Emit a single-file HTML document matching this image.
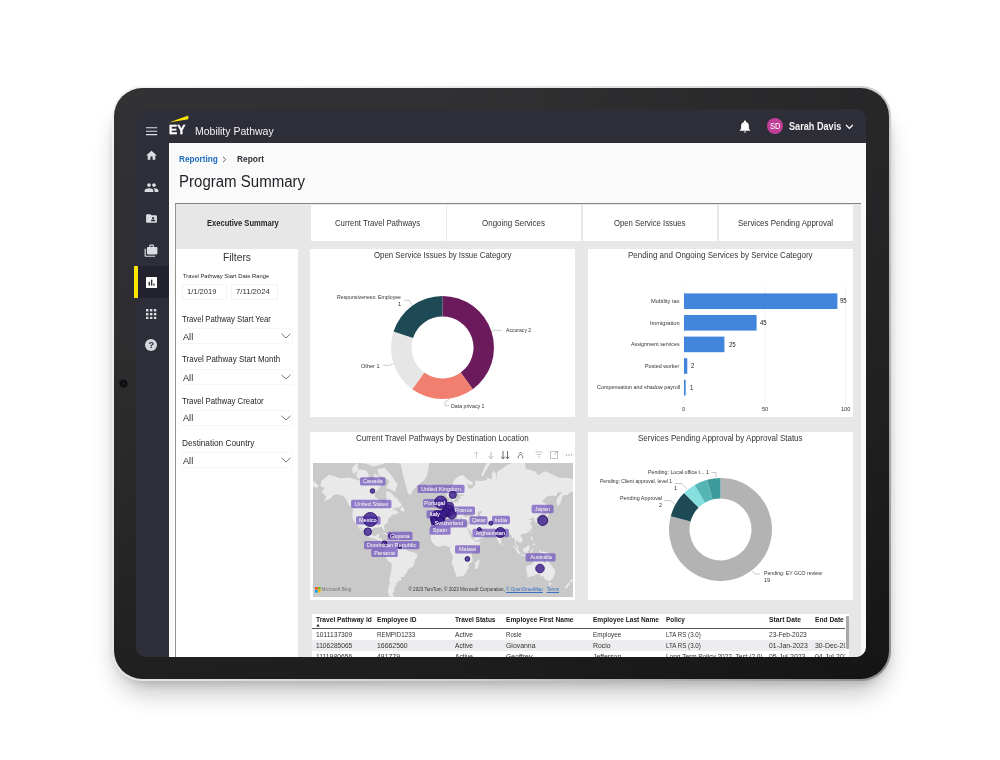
<!DOCTYPE html>
<html lang="en">
<head>
<meta charset="utf-8">
<title>Mobility Pathway - Program Summary</title>
<style>
*{box-sizing:border-box;margin:0;padding:0}
html,body{width:1000px;height:760px;overflow:hidden;background:#fff}
body{position:relative;font-family:"Liberation Sans",sans-serif;color:#252423}
.abs{position:absolute}
.t{position:absolute;white-space:nowrap;line-height:1;transform-origin:0 50%}
#shadow{left:118px;top:100px;width:768px;height:578px;border-radius:30px;box-shadow:0 14px 22px 4px rgba(0,0,0,.19),0 3px 9px 3px rgba(0,0,0,.17);background:#222}
#rim{left:112.4px;top:86.4px;width:778.4px;height:594.8px;border-radius:30px;background:linear-gradient(125deg,#f4f4f4 0%,#e6e6e6 35%,#cfcfcf 65%,#8c8c8c 100%)}
#bezel{left:113.8px;top:87.8px;width:774.8px;height:590.8px;border-radius:28.5px;background:linear-gradient(90deg,rgba(0,0,0,0) 40%,rgba(0,0,0,.2) 100%),linear-gradient(172deg,#323234 0%,#2e2e30 35%,#272728 62%,#1f1f20 85%,#1a1a1a 100%)}
#screen{left:136px;top:109px;width:730px;height:548px;border-radius:10px;background:#2e2e38;overflow:hidden}
#content{left:169px;top:143px;width:700px;height:520px;background:#fafafa}
#screen .in{position:absolute;left:-136px;top:-109px;width:1000px;height:760px}
#hdr{left:136px;top:109px;width:730px;height:34px;background:#2e2e38}
#side{left:136px;top:143px;width:33px;height:514px;background:#2e2e38}
#active{left:138px;top:266px;width:31px;height:32px;background:#23232f}
#ybar{left:134.4px;top:266px;width:3.2px;height:32px;background:#ffe600;border-radius:.5px}
.pb{font-family:"Liberation Sans",sans-serif;color:#333}
.card{position:absolute;background:#fff}
.tab{position:absolute;top:205px;height:36px;background:#fff;font-size:8px;color:#333;text-align:center;line-height:36px;white-space:nowrap}
.flabel{font-size:8px;color:#252423}
.fbox{position:absolute;left:180.5px;width:112px;height:16px;border:1px solid #f7f7f7;background:#fff}
.fall{font-size:8px;color:#333}
.ttl{font-size:8.5px;color:#333;text-align:center}
.sm{font-size:5.6px;color:#333}
.th{font-size:7px;font-weight:bold;color:#252423}
.td{font-size:7px;color:#333}
.ml{position:absolute;height:8.4px;border-radius:1.6px;background:rgba(104,72,186,.66);color:#fff;font-size:6.2px;line-height:8.4px;text-align:center;white-space:nowrap;overflow:visible}
.mlt{background:none}
.ml span{display:inline-block;transform:scaleX(.9);text-shadow:0 0 .6px rgba(60,30,120,.9),0 0 .3px #fff}
</style>
</head>
<body>
<div class="abs" id="shadow"></div>
<div class="abs" id="rim"></div>
<div class="abs" id="bezel"></div>
<!-- camera -->
<div class="abs" style="left:119.500px;top:379.800px;width:7px;height:7px;border-radius:50%;background:radial-gradient(circle at 50% 50%,#1d1d2a 0,#0a0a0c 55%,#050506 100%);box-shadow:0 0 0 .8px #1a1a1c"></div>
<div class="abs" id="screen"><div class="in">

<div class="abs" id="content"></div>
<div class="abs" id="hdr"></div>
<div class="abs" id="side"></div>
<div class="abs" id="active"></div>

<!-- header: hamburger, logo, title -->
<svg class="abs" style="left:145.800px;top:126.500px" width="12" height="9" viewBox="0 0 12 9"><path d="M0 .8h11.200M0 4.200h11.200M0 7.600h11.200" stroke="#e0e0e8" stroke-width="1.050" fill="none"/></svg>
<svg class="abs" style="left:166.800px;top:113.600px" width="24" height="10" viewBox="0 0 24 10"><path d="M2 8.500L21.300 1.400V5.300Z" fill="#ffe600"/></svg>
<div class="t" style="left:168.60px;top:123.75px;font-size:12.8px;font-weight:bold;color:#fff;transform:scaleX(0.960);-webkit-text-stroke:.35px #fff">EY</div>
<div class="t" style="left:195.00px;top:125.57px;font-size:10.5px;color:#f0f0f4;transform:scaleX(0.998);">Mobility Pathway</div>

<!-- header right -->
<svg class="abs" style="left:739px;top:120px" width="12" height="13" viewBox="0 0 12 13"><path d="M6 .6c.6 0 1 .4 1 1v.3c1.8.5 2.9 2 2.9 4v2.9l1.3 1.4v.6H.8v-.6l1.3-1.4V5.900c0-2 1.100-3.500 2.900-4V1.600c0-.6.400-1 1-1zM4.800 11.400h2.400c0 .7-.5 1.200-1.200 1.200s-1.200-.5-1.200-1.200z" fill="#fff"/></svg>
<div class="abs" style="left:767px;top:118px;width:16px;height:16px;border-radius:50%;background:#c23f97"></div>
<div class="t" style="left:770.00px;top:121.90px;font-size:9.0px;color:#fff;transform:scaleX(0.831);">SD</div>
<div class="t" style="left:788.80px;top:120.82px;font-size:10.8px;font-weight:bold;color:#f2f2f5;transform:scaleX(0.846);">Sarah Davis</div>
<svg class="abs" style="left:845px;top:124px" width="9" height="6" viewBox="0 0 9 6"><path d="M1 1l3.400 3.400L7.800 1" stroke="#fff" stroke-width="1.300" fill="none"/></svg>

<!-- sidebar icons -->
<svg class="abs" style="left:145px;top:148.700px" width="13" height="13" viewBox="0 0 24 24"><path d="M10 20v-6h4v6h5v-8h3L12 3 2 12h3v8z" fill="#dcdce4"/></svg>
<svg class="abs" style="left:144px;top:179.500px" width="15" height="15" viewBox="0 0 24 24"><path d="M16 11c1.660 0 2.990-1.340 2.990-3S17.660 5 16 5c-1.660 0-3 1.340-3 3s1.340 3 3 3zm-8 0c1.660 0 2.990-1.340 2.990-3S9.660 5 8 5C6.340 5 5 6.340 5 8s1.340 3 3 3zm0 2c-2.330 0-7 1.170-7 3.500V19h14v-2.500c0-2.330-4.670-3.500-7-3.500zm8 0c-.290 0-.620.020-.970.050 1.160.840 1.970 1.970 1.970 3.450V19h6v-2.500c0-2.330-4.670-3.500-7-3.500z" fill="#dcdce4"/></svg>
<svg class="abs" style="left:145px;top:212px" width="13" height="13" viewBox="0 0 24 24"><path d="M20 6h-8l-2-2H4c-1.100 0-1.990.9-1.990 2L2 18c0 1.100.9 2 2 2h16c1.100 0 2-.9 2-2V8c0-1.100-.9-2-2-2zm-5 3c1.100 0 2 .9 2 2s-.9 2-2 2-2-.9-2-2 .9-2 2-2zm4 8h-8v-1c0-1.330 2.670-2 4-2s4 .67 4 2v1z" fill="#dcdce4"/></svg>
<svg class="abs" style="left:144px;top:243.800px" width="14" height="14" viewBox="0 0 24 24"><path d="M3 8H1v12c0 1.100.9 2 2 2h16v-2H3V8z" fill="#dcdce4"/><path d="M21 5h-4V3c0-1.100-.9-2-2-2h-4c-1.100 0-2 .9-2 2v2H7c-1.100 0-2 .9-2 2v9c0 1.100.9 2 2 2h14c1.100 0 2-.9 2-2V7c0-1.100-.9-2-2-2zm-6 0h-4V3h4v2z" fill="#dcdce4"/></svg>
<svg class="abs" style="left:145.900px;top:276.600px" width="11.200" height="11.200" viewBox="0 0 12 12"><rect x="0" y="0" width="12" height="12" rx="1" fill="#fff"/><rect x="2.800" y="5.200" width="1.500" height="4" fill="#2e2e38"/><rect x="5.300" y="2.800" width="1.500" height="6.400" fill="#2e2e38"/><rect x="7.800" y="7.200" width="1.500" height="2" fill="#2e2e38"/></svg>
<svg class="abs" style="left:146.300px;top:308.700px" width="10.300" height="10.300" viewBox="0 0 11 11"><g fill="#dcdce4"><rect x="0" y="0" width="2.600" height="2.600"/><rect x="4.200" y="0" width="2.600" height="2.600"/><rect x="8.400" y="0" width="2.600" height="2.600"/><rect x="0" y="4.200" width="2.600" height="2.600"/><rect x="4.200" y="4.200" width="2.600" height="2.600"/><rect x="8.400" y="4.200" width="2.600" height="2.600"/><rect x="0" y="8.400" width="2.600" height="2.600"/><rect x="4.200" y="8.400" width="2.600" height="2.600"/><rect x="8.400" y="8.400" width="2.600" height="2.600"/></g></svg>
<div class="abs" style="left:145.200px;top:339px;width:12.200px;height:12.200px;border-radius:50%;background:#d6d6de"></div>
<div class="t" style="left:145.200px;top:340.800px;width:12.200px;text-align:center;font-size:9.200px;font-weight:bold;color:#2e2e38">?</div>

<!-- breadcrumb + title -->
<div class="t" style="left:178.60px;top:155.10px;font-size:8.6px;font-weight:bold;color:#1b6ac0;transform:scaleX(0.956);">Reporting</div>
<svg class="abs" style="left:221.500px;top:155.500px" width="5" height="7" viewBox="0 0 5 7"><path d="M1 .8l2.800 2.700L1 6.200" stroke="#555" stroke-width=".9" fill="none"/></svg>
<div class="t" style="left:236.80px;top:155.10px;font-size:8.6px;font-weight:bold;color:#2e2e38;transform:scaleX(0.975);">Report</div>
<div class="t" style="left:179.00px;top:173.98px;font-size:15.8px;color:#1f1f26;transform:scaleX(0.951);">Program Summary</div>

<!-- report frame -->
<div class="abs" style="left:174.500px;top:203px;width:686.500px;height:460px;background:#e7e7e7;border-top:1px solid #858585;border-left:1px solid #949494"></div>
<!-- tabs -->
<div class="tab" style="left:311px;width:134.500px"></div>
<div class="tab" style="left:447px;width:134px"></div>
<div class="tab" style="left:582.500px;width:134.500px"></div>
<div class="tab" style="left:718.500px;width:134px"></div>
<div class="t" style="left:206.50px;top:219.10px;font-size:8.6px;font-weight:bold;color:#252423;transform:scaleX(0.879);">Executive Summary</div>
<div class="t" style="left:335.40px;top:219.10px;font-size:8.6px;color:#333;transform:scaleX(0.905);">Current Travel Pathways</div>
<div class="t" style="left:482.10px;top:219.10px;font-size:8.6px;color:#333;transform:scaleX(0.929);">Ongoing Services</div>
<div class="t" style="left:614.10px;top:219.10px;font-size:8.6px;color:#333;transform:scaleX(0.900);">Open Service Issues</div>
<div class="t" style="left:737.95px;top:219.10px;font-size:8.6px;color:#333;transform:scaleX(0.926);">Services Pending Approval</div>

<!-- filters panel -->
<div class="card" style="left:176px;top:248.500px;width:122px;height:420px"></div>
<div class="t" style="left:222.50px;top:251.63px;font-size:11.0px;color:#333;transform:scaleX(0.935);">Filters</div>
<div class="t" style="left:182.50px;top:272.57px;font-size:6.2px;color:#1f1f1f;transform:scaleX(0.937);">Travel Pathway Start Date Range</div>
<div class="abs" style="left:182px;top:283.500px;width:45px;height:16px;border:1px solid #f4f4f4;background:#fff"></div>
<div class="abs" style="left:231px;top:283.500px;width:46.500px;height:16px;border:1px solid #f4f4f4;background:#fff"></div>
<div class="t" style="left:186.60px;top:288.49px;font-size:7.8px;color:#333;transform:scaleX(0.968);">1/1/2019</div>
<div class="t" style="left:235.80px;top:288.49px;font-size:7.8px;color:#333;transform:scaleX(0.988);">7/11/2024</div>

<div class="t" style="left:182.40px;top:314.90px;font-size:8.6px;color:#1f1f1f;transform:scaleX(0.898);">Travel Pathway Start Year</div>
<div class="fbox" style="top:328px"></div>
<div class="t" style="left:183.20px;top:332.80px;font-size:8.6px;color:#2a2a2a;transform:scaleX(1.067);">All</div>
<svg class="abs" style="left:281px;top:333px" width="10" height="6" viewBox="0 0 10 6"><path d="M.5 .8l4.500 4.200L9.500 .8" stroke="#555" stroke-width=".8" fill="none"/></svg>

<div class="t" style="left:182.40px;top:355.10px;font-size:8.6px;color:#1f1f1f;transform:scaleX(0.928);">Travel Pathway Start Month</div>
<div class="fbox" style="top:368.500px"></div>
<div class="t" style="left:183.20px;top:373.60px;font-size:8.6px;color:#2a2a2a;transform:scaleX(1.067);">All</div>
<svg class="abs" style="left:281px;top:373.500px" width="10" height="6" viewBox="0 0 10 6"><path d="M.5 .8l4.500 4.200L9.500 .8" stroke="#555" stroke-width=".8" fill="none"/></svg>

<div class="t" style="left:182.40px;top:396.50px;font-size:8.6px;color:#1f1f1f;transform:scaleX(0.907);">Travel Pathway Creator</div>
<div class="fbox" style="top:409.500px"></div>
<div class="t" style="left:183.20px;top:414.40px;font-size:8.6px;color:#2a2a2a;transform:scaleX(1.067);">All</div>
<svg class="abs" style="left:281px;top:414.500px" width="10" height="6" viewBox="0 0 10 6"><path d="M.5 .8l4.500 4.200L9.500 .8" stroke="#555" stroke-width=".8" fill="none"/></svg>

<div class="t" style="left:182.40px;top:439.10px;font-size:8.6px;color:#1f1f1f;transform:scaleX(0.958);">Destination Country</div>
<div class="fbox" style="top:452px"></div>
<div class="t" style="left:183.20px;top:456.80px;font-size:8.6px;color:#2a2a2a;transform:scaleX(1.067);">All</div>
<svg class="abs" style="left:281px;top:457px" width="10" height="6" viewBox="0 0 10 6"><path d="M.5 .8l4.500 4.200L9.500 .8" stroke="#555" stroke-width=".8" fill="none"/></svg>

<!-- chart 1: donut -->
<div class="card" style="left:310px;top:248.500px;width:265px;height:168.500px"></div>
<div class="t" style="left:373.95px;top:250.90px;font-size:9.0px;color:#333;transform:scaleX(0.870);">Open Service Issues by Issue Category</div>
<svg class="abs" style="left:0;top:0" width="1000" height="760" viewBox="0 0 1000 760">
<path d="M442.50 296.00A51.5 51.5 0 0 1 472.77 389.16L460.72 372.58A31 31 0 0 0 442.50 316.50Z" fill="#6b1a5c"/><path d="M472.77 389.16A51.5 51.5 0 0 1 412.23 389.16L424.28 372.58A31 31 0 0 0 460.72 372.58Z" fill="#f07f6f"/><path d="M412.23 389.16A51.5 51.5 0 0 1 393.52 331.59L413.02 337.92A31 31 0 0 0 424.28 372.58Z" fill="#e6e6e6"/><path d="M393.52 331.59A51.5 51.5 0 0 1 442.50 296.00L442.50 316.50A31 31 0 0 0 413.02 337.92Z" fill="#1d4a55"/>
<g stroke="#a6a6a6" stroke-width=".6" fill="none">
<path d="M491.500 331.500l3-1.200h7"/>
<path d="M449.500 398.700l-4.500 3.500v3.500h4"/>
<path d="M393.300 363.600l-4 1.800h-6"/>
<path d="M412.300 305.800l-3-5.500h-5"/>
</g>
</svg>
<div class="t" style="left:506.40px;top:326.82px;font-size:6.1px;color:#333;transform:scaleX(0.836);">Accuracy 2</div>
<div class="t" style="left:451.00px;top:402.82px;font-size:6.1px;color:#333;transform:scaleX(0.860);">Data privacy 1</div>
<div class="t" style="left:361.00px;top:362.82px;font-size:6.1px;color:#333;transform:scaleX(0.910);">Other 1</div>
<div class="t" style="left:337.00px;top:293.82px;font-size:6.1px;color:#333;transform:scaleX(0.851);">Responsiveness: Employee</div>
<div class="t" style="left:397.88px;top:301.32px;font-size:6.1px;color:#333;transform:scaleX(0.920);">1</div>

<!-- chart 2: bars -->
<div class="card" style="left:587.500px;top:248.500px;width:265.500px;height:168.500px"></div>
<div class="t" style="left:627.95px;top:250.90px;font-size:9.0px;color:#333;transform:scaleX(0.889);">Pending and Ongoing Services by Service Category</div>
<svg class="abs" style="left:0;top:0" width="1000" height="760" viewBox="0 0 1000 760">
<g stroke="#ececec" stroke-width=".7"><path d="M684.200 286v118M765 286v118M845.500 286v118"/></g>
<g fill="#4285dc">
<rect x="684" y="293.400" width="153.400" height="15.600"/>
<rect x="684" y="315" width="72.600" height="15.600"/>
<rect x="684" y="336.600" width="40.400" height="15.600"/>
<rect x="684" y="358.200" width="3.300" height="15.600"/>
<rect x="684" y="379.800" width="1.700" height="15.600"/>
</g>
</svg>
<div class="t" style="left:651.00px;top:298.02px;font-size:6.1px;color:#333;transform:scaleX(0.938);">Mobility tax</div>
<div class="t" style="left:650.00px;top:319.62px;font-size:6.1px;color:#333;transform:scaleX(0.930);">Immigration</div>
<div class="t" style="left:631.00px;top:341.22px;font-size:6.1px;color:#333;transform:scaleX(0.870);">Assignment services</div>
<div class="t" style="left:645.40px;top:362.82px;font-size:6.1px;color:#333;transform:scaleX(0.878);">Posted worker</div>
<div class="t" style="left:596.50px;top:384.42px;font-size:6.1px;color:#333;transform:scaleX(0.889);">Compensation and shadow payroll</div>
<div class="t" style="left:840.40px;top:298.48px;font-size:6.6px;color:#222;transform:scaleX(0.920);">95</div>
<div class="t" style="left:760.00px;top:320.08px;font-size:6.6px;color:#222;transform:scaleX(0.920);">45</div>
<div class="t" style="left:728.50px;top:341.68px;font-size:6.6px;color:#222;transform:scaleX(0.920);">25</div>
<div class="t" style="left:691.00px;top:363.28px;font-size:6.6px;color:#222;transform:scaleX(0.920);">2</div>
<div class="t" style="left:690.40px;top:384.88px;font-size:6.6px;color:#222;transform:scaleX(0.920);">1</div>
<div class="t" style="left:682.44px;top:406.32px;font-size:6.1px;color:#333;transform:scaleX(0.920);">0</div>
<div class="t" style="left:761.88px;top:406.32px;font-size:6.1px;color:#333;transform:scaleX(0.920);">50</div>
<div class="t" style="left:840.52px;top:406.32px;font-size:6.1px;color:#333;transform:scaleX(0.920);">100</div>
<!-- chart 3: map -->
<div class="card" style="left:310px;top:431.500px;width:265px;height:168px"></div>
<div class="t" style="left:356.40px;top:433.90px;font-size:9.0px;color:#333;transform:scaleX(0.887);">Current Travel Pathways by Destination Location</div>
<svg class="abs" style="left:470px;top:449px" width="104" height="12" viewBox="470 449 104 12">
<g stroke="#a8a8a8" stroke-width=".7" fill="none">
<path d="M476.500 458.500v-6.500M474.200 454.200l2.300-2.400 2.300 2.400" stroke="#bdbdbd"/>
<path d="M491 452v6.500M488.700 456.300l2.300 2.400 2.300-2.400" stroke="#9c9c9c"/>
<path d="M503 451v7.800M507.500 451v7.800M501.300 456.800l1.700 2 1.700-2M505.800 456.800l1.700 2 1.700-2" stroke="#5a5a5a" stroke-width=".9"/>
<path d="M518.300 458.300v-2l2.200-2.300 2.200 2.300v2M519 453.600l1.500-1.600 1.500 1.600" stroke="#666" stroke-width=".9"/>
<path d="M535.500 452h7M536.800 454.500h4.400M538 457h2"/>
<path d="M550.500 451.500h7v7h-7zM554 455l3.500-3.500M555.300 451.500h2.200v2.200"/>
</g>
<g fill="#999"><circle cx="566.500" cy="455" r=".7"/><circle cx="569" cy="455" r=".7"/><circle cx="571.500" cy="455" r=".7"/></g>
</svg>
<svg class="abs" style="left:312.500px;top:463px;filter:blur(.35px)" width="260.500" height="134" viewBox="0 0 260.500 134">
<rect width="260.500" height="134" fill="#c9c9c9"/>
<path d="M7.4 22.2 8.8 17.5 16.1 11.5 27.1 15.3 36.6 14.4 46.0 17.5 51.2 18.5 60.7 16.5 61.4 9.9 68.0 15.5 70.9 17.5 65.8 25.7 61.4 30.4 62.1 34.1 68.0 38.1 70.1 41.2 72.3 43.0 72.3 38.7 73.8 36.1 73.1 31.9 73.1 28.1 76.7 28.9 78.9 30.4 81.8 34.1 84.7 36.1 85.5 38.1 89.1 41.8 86.2 44.7 81.8 44.7 78.9 48.0 82.6 46.1 83.3 48.0 86.2 49.1 82.9 51.2 78.9 51.7 78.5 53.4 76.0 54.6 74.9 57.0 74.5 59.7 72.7 60.8 70.9 62.8 71.6 66.5 71.2 68.0 70.1 66.9 69.6 64.4 68.0 64.3 65.0 63.9 64.3 64.9 61.4 64.4 59.2 66.1 58.7 68.9 58.8 71.3 60.3 73.1 63.2 73.3 63.9 71.3 66.5 70.9 65.8 74.0 65.4 75.3 68.7 75.3 69.2 77.8 68.9 79.3 70.1 80.4 72.0 80.0 73.5 80.8 73.2 81.7 71.6 81.7 69.4 80.9 67.6 79.7 66.1 77.4 63.2 76.7 61.4 75.2 59.2 75.3 55.9 74.0 53.0 72.1 53.0 70.1 50.4 67.3 47.7 63.6 46.3 62.6 47.9 65.7 49.7 68.9 50.1 69.7 48.2 68.1 46.4 65.7 44.6 61.9 42.0 60.1 40.9 57.9 39.5 55.1 39.5 49.1 40.2 46.6 38.8 44.7 36.6 43.0 34.7 39.4 32.2 34.8 29.3 32.6 23.4 31.2 19.8 32.6 17.6 35.4 14.7 36.8 11.0 38.7 13.2 34.1 11.7 31.9 8.8 29.7 10.3 26.5 12.5 24.8 8.8 24.0ZM84.7 21.3 81.8 28.9 77.4 26.5 73.1 24.8 76.7 18.5 71.6 14.4 65.8 12.2 64.3 6.2 71.6 4.9 77.4 11.1 81.1 16.5ZM53.4 16.5 44.6 15.5 43.1 11.1 46.0 6.2 53.4 7.5 56.3 13.3ZM40.2 11.1 38.8 4.9 44.6 -0.7 45.3 7.5ZM42.4 -0.7 53.4 0.8 60.7 3.6 71.6 0.8 73.1 -14.9 42.4 -14.9ZM76.7 -7.2 80.4 -0.7 87.7 0.8 90.6 14.4 92.8 22.2 95.0 30.4 97.9 31.9 99.3 28.1 104.5 22.2 111.0 17.5 113.9 13.3 115.4 4.9 116.9 -3.9 115.4 -14.9 100.8 -29.9 86.2 -24.3ZM73.5 80.8 74.9 79.1 77.4 78.2 77.8 79.7 80.4 78.5 83.3 79.3 85.1 79.3 86.2 80.8 88.4 82.6 92.0 83.7 93.5 86.3 94.6 87.7 97.9 88.8 100.8 89.2 104.3 91.0 104.5 93.2 102.6 95.8 101.5 98.8 100.8 101.9 99.7 103.9 97.2 104.8 94.6 106.7 94.4 108.7 92.0 112.1 90.6 113.9 88.4 113.9 87.4 113.4 88.4 115.7 87.7 117.5 84.7 118.0 84.4 119.9 82.6 119.9 83.4 121.3 82.2 123.9 80.7 125.4 82.0 127.0 79.6 130.4 80.0 132.8 81.8 135.3 78.2 134.6 76.0 132.2 74.9 128.1 75.6 123.9 76.7 120.8 76.2 117.0 77.1 113.4 77.8 110.0 78.5 105.9 78.8 101.1 77.4 99.6 74.5 97.3 73.4 95.5 72.0 92.5 70.7 90.7 71.4 89.2 71.0 87.7 71.6 86.3 72.5 85.7 73.4 84.1 73.4 82.2 73.2 81.7ZM125.7 59.0 128.5 59.5 132.2 58.1 137.3 57.6 138.0 60.6 137.4 60.8 140.9 62.1 144.2 63.6 145.0 61.9 148.2 62.6 151.2 63.2 153.6 63.0 153.7 64.0 154.5 65.7 155.9 68.9 157.0 71.3 157.4 73.3 158.8 75.5 161.4 77.8 161.6 78.5 164.3 78.8 167.2 78.2 167.4 79.3 165.0 83.3 162.1 85.9 160.3 88.3 158.7 90.7 158.8 92.9 159.6 94.7 159.7 98.1 157.0 100.0 155.6 101.9 155.9 105.1 153.9 106.7 153.7 108.7 152.3 110.8 149.7 113.2 146.1 113.6 144.2 114.0 143.4 113.4 143.1 111.7 141.3 107.9 140.6 103.9 138.8 100.4 139.1 96.9 140.0 95.1 138.9 91.4 136.9 88.1 136.9 86.3 137.1 84.4 136.4 83.7 134.4 83.9 133.1 82.4 130.7 82.8 127.8 83.3 124.5 83.8 122.3 82.2 120.4 80.4 119.0 78.9 117.6 76.1 118.1 72.9 117.6 71.3 118.3 69.3 119.4 67.3 120.5 65.9 122.7 64.4 122.9 62.8 124.5 60.8ZM166.0 96.0 166.7 98.5 166.1 100.0 164.7 105.7 162.8 106.3 161.8 103.9 162.3 101.5 162.1 99.6 163.9 98.5 165.0 96.9ZM-139.4 57.9 -139.7 56.3 -139.2 53.6 -139.5 52.2 -138.6 51.5 -134.1 51.8 -133.7 49.3 -134.8 47.5 -136.2 46.5 -133.9 46.2 -134.0 45.1 -132.7 45.2 -131.6 43.8 -130.2 43.1 -129.4 41.2 -127.7 40.5 -126.5 40.0 -126.8 36.4 -125.1 35.3 -125.3 38.1 -124.0 39.7 -122.6 40.0 -119.3 39.1 -117.5 38.3 -117.5 35.7 -115.1 35.4 -115.6 33.1 -112.4 32.5 -110.9 31.9 -113.8 31.3 -116.4 31.9 -117.3 30.4 -117.1 27.3 -114.5 24.0 -116.7 22.6 -120.2 29.7 -119.1 31.9 -120.8 36.1 -122.4 38.0 -123.5 38.1 -124.6 33.8 -127.0 34.8 -128.8 33.4 -129.1 29.2 -126.6 26.2 -123.3 22.2 -121.8 17.5 -118.9 14.4 -114.5 12.2 -112.4 12.2 -110.2 14.4 -108.7 15.9 -102.9 19.5 -103.6 22.2 -107.2 21.3 -108.7 21.0 -107.2 25.2 -105.4 25.7 -103.2 24.8 -100.7 21.9 -100.7 17.5 -93.4 18.1 -89.0 16.9 -88.6 14.4 -83.9 16.5 -83.9 11.1 -82.4 7.5 -79.5 11.1 -79.5 18.5 -78.4 8.7 -74.4 6.2 -69.3 2.2 -61.3 -0.7 -56.9 -5.5 -51.0 -0.7 -49.9 5.7 -40.1 8.7 -37.9 12.2 -30.6 8.2 -21.8 12.2 -16.0 15.1 -8.7 14.8 -2.9 16.1 -1.4 16.7 2.2 19.5 5.9 22.2 3.7 25.0 0.1 23.6 -2.1 24.8 -1.8 28.1 -5.8 29.4 -8.7 31.9 -13.1 32.2 -13.8 35.0 -14.5 37.4 -16.0 41.2 -18.4 43.6 -19.3 38.7 -18.9 35.4 -15.3 31.2 -13.8 28.9 -18.2 29.4 -19.7 32.9 -24.0 32.6 -29.1 33.4 -34.2 39.0 -30.6 40.0 -29.5 42.4 -30.2 46.4 -32.1 49.1 -33.9 51.2 -36.1 52.2 -37.5 52.7 -38.3 54.6 -39.7 55.6 -38.3 57.9 -38.4 59.4 -40.5 60.2 -40.6 57.9 -41.5 57.0 -41.9 55.1 -44.1 54.6 -44.1 56.0 -46.7 55.8 -46.3 57.0 -43.4 57.4 -43.7 58.1 -45.7 59.7 -44.5 61.9 -43.7 63.2 -44.1 65.7 -45.9 67.7 -47.8 69.7 -49.9 70.3 -52.1 71.1 -54.0 70.9 -55.4 72.5 -53.6 75.2 -52.9 77.4 -53.2 78.5 -54.8 79.4 -56.2 80.6 -56.3 79.5 -58.0 78.2 -59.2 77.2 -59.8 78.5 -60.3 80.2 -59.4 81.7 -58.0 83.0 -57.2 84.4 -56.7 86.0 -57.4 86.0 -58.9 85.0 -59.6 83.0 -61.0 81.0 -60.8 78.2 -61.5 75.5 -61.8 74.6 -64.0 75.2 -64.0 73.0 -65.6 71.3 -66.4 70.1 -68.2 70.7 -69.4 71.7 -70.9 72.9 -72.7 74.8 -74.3 75.5 -74.3 77.4 -74.5 79.4 -76.2 81.1 -77.1 80.0 -78.2 77.4 -79.3 74.4 -79.7 72.5 -79.8 71.1 -81.3 71.5 -82.4 70.3 -83.7 68.3 -87.5 68.0 -91.0 67.6 -91.6 66.5 -93.4 66.8 -95.2 65.9 -96.3 64.0 -97.4 64.0 -97.8 65.3 -96.2 66.8 -95.4 68.7 -94.8 68.9 -93.0 68.8 -91.7 67.2 -91.5 68.5 -89.9 69.3 -89.1 70.1 -90.1 71.7 -90.7 72.9 -92.7 74.4 -94.8 75.5 -97.2 76.7 -99.9 77.6 -101.0 77.7 -101.6 75.9 -101.8 74.8 -103.6 71.9 -104.5 69.3 -105.6 67.9 -107.2 65.7 -107.3 64.4 -107.8 65.7 -108.2 65.4 -109.0 64.0 -109.2 63.0 -107.8 62.9 -107.2 61.6 -106.6 59.4 -106.4 58.2 -107.6 58.2 -109.4 58.6 -110.5 58.5 -111.6 58.3 -112.8 57.9 -113.6 56.5 -113.3 55.6 -113.7 55.0 -113.8 54.5 -115.3 54.3 -116.2 54.7 -115.6 56.0 -115.3 57.0 -116.0 58.3 -117.0 58.1 -117.5 56.5 -118.6 54.8 -118.6 53.4 -119.7 52.5 -121.6 50.9 -122.7 49.6 -123.8 49.8 -123.7 51.2 -122.7 52.2 -121.1 53.4 -119.3 54.9 -120.4 54.6 -120.8 55.4 -120.3 56.0 -121.1 57.0 -121.3 57.0 -121.1 56.0 -121.5 55.0 -122.4 54.3 -123.8 53.4 -125.1 52.2 -125.5 51.2 -126.4 50.8 -127.3 51.4 -128.4 52.1 -129.9 51.7 -130.6 52.7 -130.5 53.4 -132.2 54.1 -133.0 55.6 -132.7 56.3 -133.3 57.2 -134.3 58.1 -136.1 58.2 -136.9 58.8 -137.5 58.1 -138.2 57.7ZM123.4 57.9 123.1 56.3 123.6 53.6 123.3 52.2 124.2 51.5 128.7 51.8 129.1 49.3 128.0 47.5 126.6 46.5 128.9 46.2 128.8 45.1 130.1 45.2 131.2 43.8 132.6 43.1 133.4 41.2 135.1 40.5 136.3 40.0 136.0 36.4 137.7 35.3 137.5 38.1 138.8 39.7 140.2 40.0 143.5 39.1 145.3 38.3 145.3 35.7 147.7 35.4 147.2 33.1 150.4 32.5 151.9 31.9 149.0 31.3 146.4 31.9 145.5 30.4 145.7 27.3 148.2 24.0 146.1 22.6 142.6 29.7 143.7 31.9 142.0 36.1 140.4 38.0 139.3 38.1 138.2 33.8 135.8 34.8 134.0 33.4 133.7 29.2 136.2 26.2 139.5 22.2 140.9 17.5 143.9 14.4 148.2 12.2 150.4 12.2 152.6 14.4 154.1 15.9 159.9 19.5 159.2 22.2 155.6 21.3 154.1 21.0 155.6 25.2 157.4 25.7 159.6 24.8 162.1 21.9 162.1 17.5 169.4 18.1 173.8 16.9 174.2 14.4 178.9 16.5 178.9 11.1 180.4 7.5 183.3 11.1 183.3 18.5 184.4 8.7 188.4 6.2 193.5 2.2 201.5 -0.7 205.9 -5.5 211.8 -0.7 212.9 5.7 222.7 8.7 224.9 12.2 232.2 8.2 241.0 12.2 246.8 15.1 254.1 14.8 259.9 16.1 261.4 16.7 265.0 19.5 268.7 22.2 266.5 25.0 262.9 23.6 260.7 24.8 261.0 28.1 257.0 29.4 254.1 31.9 249.7 32.2 249.0 35.0 248.3 37.4 246.8 41.2 244.4 43.6 243.5 38.7 243.9 35.4 247.5 31.2 249.0 28.9 244.6 29.4 243.1 32.9 238.8 32.6 233.7 33.4 228.6 39.0 232.2 40.0 233.3 42.4 232.6 46.4 230.7 49.1 228.9 51.2 226.7 52.2 225.3 52.7 224.5 54.6 223.1 55.6 224.5 57.9 224.4 59.4 222.3 60.2 222.2 57.9 221.2 57.0 220.9 55.1 218.7 54.6 218.7 56.0 216.1 55.8 216.5 57.0 219.4 57.4 219.1 58.1 217.1 59.7 218.3 61.9 219.1 63.2 218.7 65.7 216.9 67.7 215.0 69.7 212.9 70.3 210.7 71.1 208.8 70.9 207.4 72.5 209.2 75.2 209.9 77.4 209.6 78.5 208.0 79.4 206.6 80.6 206.5 79.5 204.8 78.2 203.6 77.2 203.0 78.5 202.5 80.2 203.4 81.7 204.8 83.0 205.6 84.4 206.1 86.0 205.4 86.0 203.9 85.0 203.2 83.0 201.8 81.0 202.0 78.2 201.3 75.5 201.0 74.6 198.8 75.2 198.8 73.0 197.2 71.3 196.4 70.1 194.6 70.7 193.4 71.7 191.9 72.9 190.1 74.8 188.5 75.5 188.5 77.4 188.3 79.4 186.6 81.1 185.7 80.0 184.6 77.4 183.5 74.4 183.1 72.5 183.0 71.1 181.5 71.5 180.4 70.3 179.1 68.3 175.3 68.0 171.8 67.6 171.2 66.5 169.4 66.8 167.6 65.9 166.5 64.0 165.4 64.0 165.0 65.3 166.6 66.8 167.4 68.7 168.0 68.9 169.8 68.8 171.1 67.2 171.3 68.5 172.9 69.3 173.7 70.1 172.7 71.7 172.1 72.9 170.2 74.4 168.0 75.5 165.6 76.7 162.8 77.6 161.8 77.7 161.2 75.9 161.0 74.8 159.2 71.9 158.3 69.3 157.2 67.9 155.6 65.7 155.5 64.4 155.0 65.7 154.6 65.4 153.8 64.0 153.6 63.0 155.0 62.9 155.6 61.6 156.2 59.4 156.4 58.2 155.2 58.2 153.4 58.6 152.3 58.5 151.2 58.3 150.0 57.9 149.2 56.5 149.5 55.6 149.1 55.0 149.0 54.5 147.5 54.3 146.6 54.7 147.2 56.0 147.5 57.0 146.8 58.3 145.8 58.1 145.3 56.5 144.2 54.8 144.2 53.4 143.1 52.5 141.2 50.9 140.1 49.6 139.0 49.8 139.1 51.2 140.1 52.2 141.7 53.4 143.5 54.9 142.4 54.6 142.0 55.4 142.5 56.0 141.7 57.0 141.5 57.0 141.7 56.0 141.3 55.0 140.4 54.3 139.0 53.4 137.7 52.2 137.3 51.2 136.4 50.8 135.5 51.4 134.4 52.1 132.9 51.7 132.2 52.7 132.3 53.4 130.6 54.1 129.8 55.6 130.1 56.3 129.5 57.2 128.5 58.1 126.7 58.2 125.9 58.8 125.3 58.1 124.6 57.7ZM126.0 44.7 127.4 44.4 130.9 43.3 131.2 41.6 130.2 41.2 129.9 39.6 128.8 38.1 128.4 37.0 128.5 35.3 127.4 35.2 127.7 33.9 126.3 33.9 125.6 35.4 126.0 37.4 126.5 39.0 127.8 40.0 127.7 40.8 126.7 41.0 126.9 42.0 126.2 42.6 127.6 43.1ZM125.6 42.2 125.5 40.0 125.9 39.2 125.3 38.5 124.0 38.5 122.7 39.7 122.8 42.4 123.1 43.0ZM113.6 25.9 116.5 26.7 119.4 24.8 119.2 22.2 118.0 21.3 113.9 21.7 112.5 23.1 113.9 24.0ZM225.0 61.2 225.6 62.9 226.4 61.0 228.6 61.0 230.0 60.1 231.5 59.7 232.8 59.1 232.9 56.7 233.7 55.5 233.1 53.8 232.2 54.1 232.1 55.6 231.1 57.6 230.0 57.9 229.3 59.0 227.1 59.2 225.6 60.3ZM232.2 53.2 233.3 51.9 233.4 49.7 236.0 51.2 235.8 52.2 234.5 53.2 232.9 52.7ZM233.7 49.1 234.8 45.3 234.4 42.4 234.0 40.0 233.5 42.4 233.7 45.9ZM217.7 69.7 218.3 68.1 219.0 68.1 218.3 70.5ZM188.3 81.1 188.5 79.9 189.7 81.5 189.1 82.5 188.4 82.6ZM217.8 75.2 218.2 73.3 219.2 73.3 219.1 75.2 220.5 77.4 220.0 77.4 218.3 76.8ZM219.1 81.9 220.2 80.8 221.6 79.9 222.3 81.5 221.6 82.6 220.5 82.2ZM209.6 85.9 209.9 85.5 211.2 85.2 212.5 84.6 214.3 83.0 215.4 81.9 216.9 83.2 216.0 84.4 216.9 86.3 215.8 86.6 215.0 88.5 214.7 89.8 213.6 89.9 211.4 89.3 210.3 88.1 209.6 86.6ZM199.6 82.9 201.2 83.2 203.0 85.2 205.6 87.0 206.3 88.5 207.4 89.3 207.2 91.2 206.3 91.2 204.5 89.9 203.2 87.7 202.1 85.8 200.8 84.7ZM206.8 92.0 209.2 91.8 211.0 91.8 213.6 92.5 213.4 93.3 210.3 93.0 207.7 92.4ZM217.2 91.0 217.9 89.0 217.5 86.9 218.3 86.1 221.2 85.8 220.9 86.6 218.3 86.6 218.7 87.7 220.0 87.7 219.1 88.5 219.4 90.3 218.7 90.5 218.3 89.0 217.9 91.0ZM225.6 87.6 227.8 87.6 228.6 89.4 230.7 88.2 232.9 88.9 235.8 90.1 237.7 91.4 236.9 92.1 238.0 92.9 240.0 94.7 237.9 94.3 236.6 93.0 234.8 93.0 234.4 93.7 232.9 93.6 231.1 93.1 230.7 91.0 228.6 90.3 227.1 89.9 226.4 89.0ZM213.0 103.9 213.4 106.7 213.9 110.0 214.5 111.5 213.9 113.7 216.1 114.3 217.6 113.3 220.2 113.3 222.0 111.9 224.2 111.3 226.0 111.2 227.8 112.4 228.9 114.1 230.5 112.5 230.6 114.7 231.8 115.2 232.8 117.0 234.8 117.8 236.8 118.0 238.0 116.9 239.5 116.3 240.4 113.4 241.7 110.8 242.1 108.3 241.7 106.3 240.2 104.7 239.1 103.5 238.4 101.9 236.8 101.1 236.2 98.1 234.8 97.5 234.1 94.9 233.4 96.6 232.9 99.8 231.8 100.0 230.0 98.6 229.1 98.1 229.9 96.0 226.9 95.4 225.6 96.0 224.7 98.0 223.7 97.9 222.0 97.3 220.5 99.1 219.3 100.0 218.7 101.5 216.5 102.1 214.7 102.7ZM235.6 119.6 238.3 119.8 238.0 122.0 236.9 122.4 236.1 121.3ZM256.1 113.8 257.6 115.9 258.5 116.7 260.3 116.8 259.2 118.2 259.1 118.9 258.0 120.5 257.6 120.2 257.7 118.7 256.9 118.2 257.5 117.0 257.4 115.7ZM256.1 119.4 257.2 120.6 256.1 122.3 255.0 123.1 254.6 124.8 253.0 125.5 251.5 124.9 252.9 122.8 254.8 120.8ZM68.0 70.7 70.1 69.6 73.8 70.8 75.8 71.9 73.3 72.2 73.1 71.5 70.1 70.2ZM75.7 73.3 76.7 72.2 78.9 72.2 80.1 73.2 78.2 73.8ZM168.0 12.2 170.5 6.7 173.8 -0.7 179.6 -3.2 175.3 3.6 171.6 9.9 170.2 12.9ZM139.1 57.0 141.3 56.8 141.1 58.2 139.1 57.3ZM136.1 54.1 137.1 54.1 137.0 55.8 136.2 56.0ZM86.9 47.3 89.1 43.0 91.3 46.4 91.3 48.4 89.1 48.2Z" fill="#e9e9e9"/>
<path d="M150.6 53.6 150.3 52.7 150.9 51.7 151.7 49.9 152.6 48.5 154.5 49.1 154.5 50.6 155.8 50.1 156.7 49.8 157.4 48.6 158.5 48.0 157.7 49.6 157.0 50.3 158.8 51.5 160.3 52.5 160.3 53.6 157.7 54.1 155.6 53.2 153.0 53.9 151.2 54.0ZM165.8 48.6 167.6 48.0 168.7 48.6 168.7 50.1 167.2 50.6 166.9 52.7 168.3 53.2 169.1 54.6 168.7 56.0 169.4 57.6 167.6 58.2 166.1 57.4 165.8 55.6 166.1 54.6 164.7 52.4 164.3 50.6Z" fill="#c9c9c9"/>
</svg>
<svg class="abs" style="left:0;top:0" width="1000" height="760" viewBox="0 0 1000 760">
<g fill="rgba(112,84,190,.72)"><rect x="360" y="477.200" width="25.500" height="8.400" rx="1.600"/><rect x="351" y="499.800" width="40.500" height="8.400" rx="1.600"/><rect x="356" y="516.200" width="24.500" height="8.400" rx="1.600"/><rect x="387.500" y="531.700" width="25" height="8.400" rx="1.600"/><rect x="364" y="540.900" width="55.500" height="8.400" rx="1.600"/><rect x="371.300" y="548.700" width="26.500" height="8.400" rx="1.600"/><rect x="417.500" y="484.700" width="47" height="8.400" rx="1.600"/><rect x="423" y="499" width="24" height="8.400" rx="1.600"/><rect x="453" y="506.400" width="22" height="8.400" rx="1.600"/><rect x="426.600" y="510.200" width="17" height="8.400" rx="1.600"/><rect x="431" y="519.200" width="36" height="8.400" rx="1.600"/><rect x="429.600" y="526.400" width="21" height="8.400" rx="1.600"/><rect x="469.500" y="516.200" width="18" height="8.400" rx="1.600"/><rect x="492" y="515.800" width="18" height="8.400" rx="1.600"/><rect x="472.500" y="528.800" width="36.500" height="8.400" rx="1.600"/><rect x="455" y="545.200" width="25" height="8.400" rx="1.600"/><rect x="531.600" y="504.800" width="22" height="8.400" rx="1.600"/><rect x="525.600" y="553.200" width="30" height="8.400" rx="1.600"/></g>
<g fill="rgba(58,26,140,.8)" stroke="rgba(40,14,104,.95)" stroke-width=".9">
<circle cx="372.500" cy="491" r="2.300"/>
<circle cx="370.300" cy="519.500" r="7"/>
<circle cx="367.800" cy="531.700" r="3.800"/>
<circle cx="390.700" cy="535.800" r="2"/>
<circle cx="384.500" cy="543.400" r="2.400"/>
<circle cx="399.800" cy="546.400" r="2"/>
<circle cx="452.800" cy="494.800" r="3.600"/>
<circle cx="440.800" cy="502.200" r="6.200"/>
<circle cx="449.600" cy="506.300" r="4"/>
<circle cx="448.200" cy="510.900" r="5.800"/>
<circle cx="451.900" cy="514.600" r="4.400"/>
<circle cx="445.900" cy="511.800" r="4"/>
<circle cx="437.600" cy="517.800" r="7.200"/>
<circle cx="434.900" cy="521" r="4"/>
<circle cx="442.500" cy="514.500" r="4.500"/>
<circle cx="440" cy="520.500" r="4"/>
<circle cx="490.800" cy="523.200" r="2"/>
<circle cx="479.400" cy="529.500" r="2"/>
<circle cx="500.400" cy="532.500" r="5"/>
<circle cx="467.400" cy="559" r="2.400"/>
<circle cx="542.700" cy="520.500" r="5"/>
<circle cx="540" cy="568.500" r="4.300"/>
</g>
</svg>
<div class="ml mlt" style="left:360px;top:477.200px;width:25.500px"><span>Canada</span></div>
<div class="ml mlt" style="left:351px;top:499.800px;width:40.500px"><span>United States</span></div>
<div class="ml mlt" style="left:356px;top:516.200px;width:24.500px"><span>Mexico</span></div>
<div class="ml mlt" style="left:387.500px;top:531.700px;width:25px"><span>Guyana</span></div>
<div class="ml mlt" style="left:364px;top:540.900px;width:55.500px"><span>Dominican Republic</span></div>
<div class="ml mlt" style="left:371.300px;top:548.700px;width:26.500px"><span>Panama</span></div>
<div class="ml mlt" style="left:417.500px;top:484.700px;width:47px"><span>United Kingdom</span></div>
<div class="ml mlt" style="left:423px;top:499px;width:24px"><span>Portugal</span></div>
<div class="ml mlt" style="left:453px;top:506.400px;width:22px"><span>France</span></div>
<div class="ml mlt" style="left:426.600px;top:510.200px;width:17px"><span>Italy</span></div>
<div class="ml mlt" style="left:431px;top:519.200px;width:36px"><span>Switzerland</span></div>
<div class="ml mlt" style="left:429.600px;top:526.400px;width:21px"><span>Spain</span></div>
<div class="ml mlt" style="left:469.500px;top:516.200px;width:18px"><span>Qatar</span></div>
<div class="ml mlt" style="left:492px;top:515.800px;width:18px"><span>India</span></div>
<div class="ml mlt" style="left:472.500px;top:528.800px;width:36.500px"><span>Afghanistan</span></div>
<div class="ml mlt" style="left:455px;top:545.200px;width:25px"><span>Malawi</span></div>
<div class="ml mlt" style="left:531.600px;top:504.800px;width:22px"><span>Japan</span></div>
<div class="ml mlt" style="left:525.600px;top:553.200px;width:30px"><span>Australia</span></div>
<!-- bing logo -->
<svg class="abs" style="left:315px;top:587px" width="6" height="6" viewBox="0 0 6 6"><rect x="0" y="0" width="2.600" height="2.600" fill="#f25022"/><rect x="3" y="0" width="2.600" height="2.600" fill="#7fba00"/><rect x="0" y="3" width="2.600" height="2.600" fill="#00a4ef"/><rect x="3" y="3" width="2.600" height="2.600" fill="#ffb900"/></svg>
<div class="t pb" style="left:321.500px;top:587.500px;font-size:4.700px;color:#737373">Microsoft Bing</div>
<div class="t pb" style="left:408.500px;top:587.700px;font-size:4.550px;color:#333">© 2023 TomTom, © 2023 Microsoft Corporation, <span style="color:#3b6fc4;text-decoration:underline">© OpenStreetMap</span>&nbsp;&nbsp;&nbsp;<span style="color:#3b6fc4;text-decoration:underline">Terms</span></div>

<!-- chart 4: donut -->
<div class="card" style="left:587.500px;top:431.500px;width:265.500px;height:168px"></div>
<div class="t" style="left:638.45px;top:433.90px;font-size:9.0px;color:#333;transform:scaleX(0.889);">Services Pending Approval by Approval Status</div>
<svg class="abs" style="left:0;top:0" width="1000" height="760" viewBox="0 0 1000 760">
<path d="M720.50 478.00A51.5 51.5 0 1 1 670.75 516.17L690.56 521.48A31 31 0 1 0 720.50 498.50Z" fill="#b3b3b3"/><path d="M670.75 516.17A51.5 51.5 0 0 1 684.08 493.08L698.58 507.58A31 31 0 0 0 690.56 521.48Z" fill="#1d4a55"/><path d="M684.08 493.08A51.5 51.5 0 0 1 694.75 484.90L705.00 502.65A31 31 0 0 0 698.58 507.58Z" fill="#86e0e0"/><path d="M694.75 484.90A51.5 51.5 0 0 1 707.17 479.75L712.48 499.56A31 31 0 0 0 705.00 502.65Z" fill="#55b5b5"/><path d="M707.17 479.75A51.5 51.5 0 0 1 720.50 478.00L720.50 498.50A31 31 0 0 0 712.48 499.56Z" fill="#3f9a9c"/>
<g stroke="#a6a6a6" stroke-width=".6" fill="none">
<path d="M711.500 472.500h4.500v5"/>
<path d="M675 483.500h7l5 5.500"/>
<path d="M664 500.500h6l4.500 3"/>
<path d="M752 571l3 3h5"/>
</g>
</svg>
<div class="t" style="left:647.50px;top:469.32px;font-size:6.1px;color:#333;transform:scaleX(0.870);">Pending: Local office t... 1</div>
<div class="t" style="left:600.40px;top:477.82px;font-size:6.1px;color:#333;transform:scaleX(0.824);">Pending: Client approval, level 1</div>
<div class="t" style="left:674.00px;top:485.02px;font-size:6.1px;color:#333;transform:scaleX(0.920);">1</div>
<div class="t" style="left:619.60px;top:494.82px;font-size:6.1px;color:#333;transform:scaleX(0.879);">Pending Approval</div>
<div class="t" style="left:659.00px;top:502.02px;font-size:6.1px;color:#333;transform:scaleX(0.920);">2</div>
<div class="t" style="left:763.60px;top:569.82px;font-size:6.1px;color:#333;transform:scaleX(0.843);">Pending: EY GCO review</div>
<div class="t" style="left:763.80px;top:577.22px;font-size:6.1px;color:#333;transform:scaleX(0.920);">19</div>

<!-- table -->
<div class="card" style="left:312px;top:613.500px;width:537px;height:50px"></div>
<div class="abs" style="left:312px;top:639.800px;width:533px;height:10.800px;background:#ededf0"></div>
<div class="abs" style="left:312px;top:628.300px;width:533px;height:.8px;background:#555"></div>
<div class="t" style="left:315.50px;top:616.14px;font-size:7.7px;font-weight:bold;color:#1a1a1a;transform:scaleX(0.865);">Travel Pathway Id</div>
<div class="t" style="left:377.40px;top:616.14px;font-size:7.7px;font-weight:bold;color:#1a1a1a;transform:scaleX(0.858);">Employee ID</div>
<div class="t" style="left:454.50px;top:616.14px;font-size:7.7px;font-weight:bold;color:#1a1a1a;transform:scaleX(0.846);">Travel Status</div>
<div class="t" style="left:505.50px;top:616.14px;font-size:7.7px;font-weight:bold;color:#1a1a1a;transform:scaleX(0.863);">Employee First Name</div>
<div class="t" style="left:593.40px;top:616.14px;font-size:7.7px;font-weight:bold;color:#1a1a1a;transform:scaleX(0.853);">Employee Last Name</div>
<div class="t" style="left:665.80px;top:616.14px;font-size:7.7px;font-weight:bold;color:#1a1a1a;transform:scaleX(0.830);">Policy</div>
<div class="t" style="left:769.40px;top:616.14px;font-size:7.7px;font-weight:bold;color:#1a1a1a;transform:scaleX(0.881);">Start Date</div>
<div class="t" style="left:815.20px;top:616.14px;font-size:7.7px;font-weight:bold;color:#1a1a1a;transform:scaleX(0.864);">End Date</div>
<svg class="abs" style="left:315.700px;top:624px" width="4.400" height="3" viewBox="0 0 4 3"><path d="M0 2.600L1.800 0l1.800 2.600z" fill="#252423"/></svg>

<div class="t" style="left:315.50px;top:631.04px;font-size:7.5px;color:#333;transform:scaleX(0.894);">1011137309</div>
<div class="t" style="left:377.40px;top:631.04px;font-size:7.5px;color:#333;transform:scaleX(0.831);">REMPID1233</div>
<div class="t" style="left:454.50px;top:631.04px;font-size:7.5px;color:#333;transform:scaleX(0.881);">Active</div>
<div class="t" style="left:505.50px;top:631.04px;font-size:7.5px;color:#333;transform:scaleX(0.813);">Rosie</div>
<div class="t" style="left:593.40px;top:631.04px;font-size:7.5px;color:#333;transform:scaleX(0.845);">Employee</div>
<div class="t" style="left:665.80px;top:631.04px;font-size:7.5px;color:#333;transform:scaleX(0.824);">LTA RS (3.0)</div>
<div class="t" style="left:769.40px;top:631.04px;font-size:7.5px;color:#333;transform:scaleX(0.880);">23-Feb-2023</div>

<div class="t" style="left:315.50px;top:641.84px;font-size:7.5px;color:#333;transform:scaleX(0.882);">1106285065</div>
<div class="t" style="left:377.40px;top:641.84px;font-size:7.5px;color:#333;transform:scaleX(0.920);">16662560</div>
<div class="t" style="left:454.50px;top:641.84px;font-size:7.5px;color:#333;transform:scaleX(0.881);">Active</div>
<div class="t" style="left:505.50px;top:641.84px;font-size:7.5px;color:#333;transform:scaleX(0.920);">Giovanna</div>
<div class="t" style="left:593.40px;top:641.84px;font-size:7.5px;color:#333;transform:scaleX(0.920);">Rocio</div>
<div class="t" style="left:665.80px;top:641.84px;font-size:7.5px;color:#333;transform:scaleX(0.824);">LTA RS (3.0)</div>
<div class="t" style="left:769.40px;top:641.84px;font-size:7.5px;color:#333;transform:scaleX(0.920);">01-Jan-2023</div>
<div class="t" style="left:815.20px;top:641.84px;font-size:7.5px;color:#333;transform:scaleX(0.920);width:32.5px;overflow:hidden">30-Dec-2023</div>

<div class="t" style="left:315.50px;top:652.64px;font-size:7.5px;color:#333;transform:scaleX(0.906);">1111980656</div>
<div class="t" style="left:377.40px;top:652.64px;font-size:7.5px;color:#333;transform:scaleX(0.920);">481779</div>
<div class="t" style="left:454.50px;top:652.64px;font-size:7.5px;color:#333;transform:scaleX(0.881);">Active</div>
<div class="t" style="left:505.50px;top:652.64px;font-size:7.5px;color:#333;transform:scaleX(0.920);">Geoffrey</div>
<div class="t" style="left:593.40px;top:652.64px;font-size:7.5px;color:#333;transform:scaleX(0.920);">Jefferson</div>
<div class="t" style="left:665.80px;top:652.64px;font-size:7.5px;color:#333;transform:scaleX(0.866);">Long Term Policy 2022_Test (2.0)</div>
<div class="t" style="left:769.40px;top:652.64px;font-size:7.5px;color:#333;transform:scaleX(0.920);">05-Jul-2023</div>
<div class="t" style="left:815.20px;top:652.64px;font-size:7.5px;color:#333;transform:scaleX(0.920);width:32.5px;overflow:hidden">04-Jul-2024</div>
<div class="abs" style="left:845.600px;top:615.500px;width:3.200px;height:33px;background:#a8a8a8;border-radius:1px"></div>

</div></div>
<div class="abs" id="ybar"></div>
</body>
</html>
